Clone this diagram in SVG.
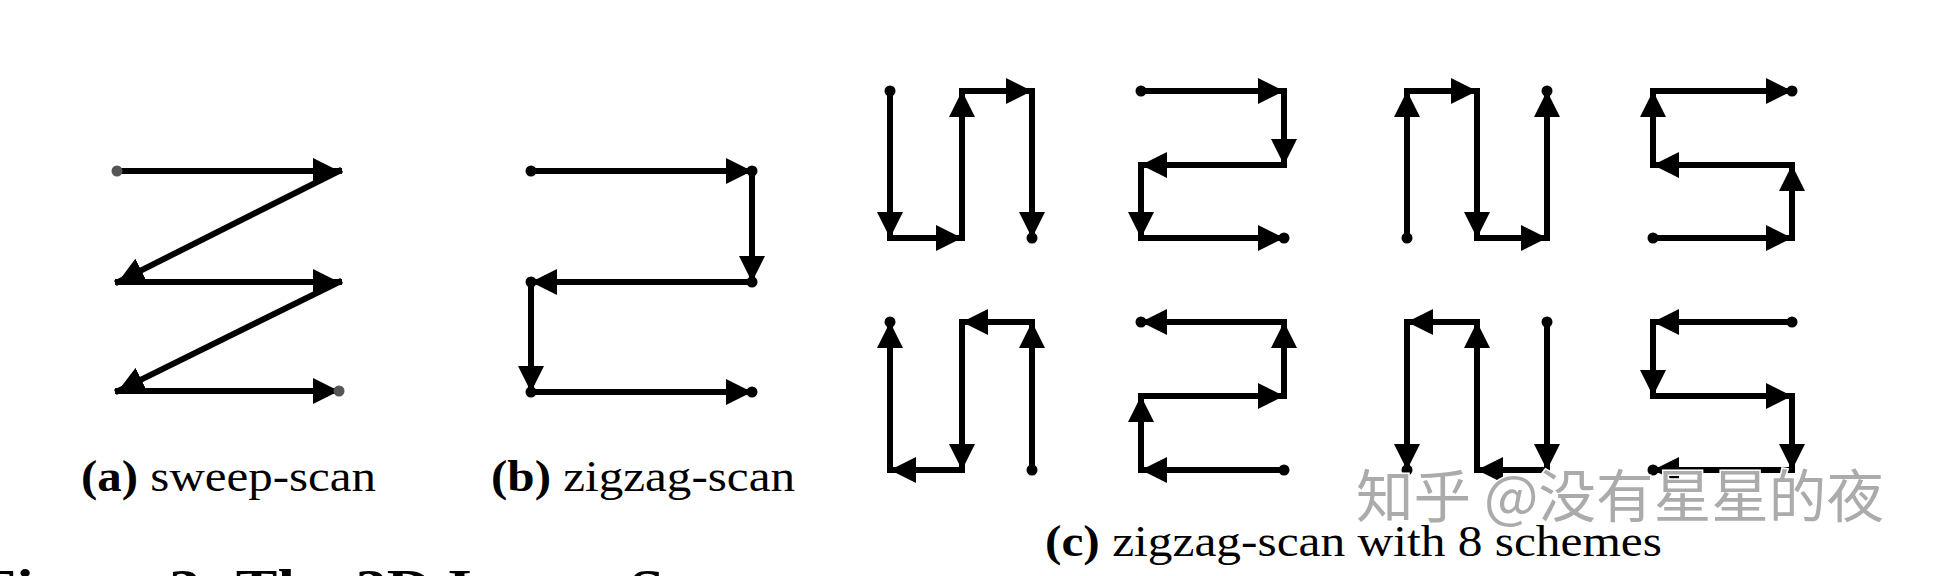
<svg xmlns="http://www.w3.org/2000/svg" width="1933" height="576" viewBox="0 0 1933 576">
<style>
.s{fill:none;stroke:#000;stroke-width:6;stroke-linecap:square;marker-end:url(#ah)}
.d{fill:#000}
.g{fill:#555}
.cap{font-family:"Liberation Serif","Times New Roman",serif;font-size:44px;fill:#000}
.b{font-weight:bold}
.wm{font-family:"Noto Sans CJK SC","Noto Sans",sans-serif;font-size:57px;fill:#ababab;stroke:#fff;stroke-width:3;paint-order:stroke}
</style>
<defs>
<marker id="ah" markerUnits="userSpaceOnUse" markerWidth="26" markerHeight="26" refX="26" refY="13" orient="auto">
<path d="M0,0 L26,13 L0,26 Z" fill="#000"/>
</marker>
</defs>
<rect width="1933" height="576" fill="#fff"/>

<g id="connectors">
<g id="sweep-scan">
<path class="s" d="M118,171 L339,171"/>
<path class="s" d="M339,171 L118,282"/>
<path class="s" d="M118,282 L339,282"/>
<path class="s" d="M339,282 L118,391"/>
<path class="s" d="M118,391 L339,391"/>
</g>
<g id="zigzag-scan">
<path class="s" d="M531,171 L752,171"/>
<path class="s" d="M752,171 L752,282"/>
<path class="s" d="M752,282 L531,282"/>
<path class="s" d="M531,282 L531,392"/>
<path class="s" d="M531,392 L752,392"/>
</g>
<g id="scheme1">
<path class="s" d="M890,91 L890,238"/>
<path class="s" d="M890,238 L962,238"/>
<path class="s" d="M962,238 L962,91"/>
<path class="s" d="M962,91 L1032,91"/>
<path class="s" d="M1032,91 L1032,238"/>
</g>
<g id="scheme2">
<path class="s" d="M1141,91 L1284,91"/>
<path class="s" d="M1284,91 L1284,165"/>
<path class="s" d="M1284,165 L1141,165"/>
<path class="s" d="M1141,165 L1141,238"/>
<path class="s" d="M1141,238 L1284,238"/>
</g>
<g id="scheme3">
<path class="s" d="M1407,238 L1407,91"/>
<path class="s" d="M1407,91 L1477,91"/>
<path class="s" d="M1477,91 L1477,238"/>
<path class="s" d="M1477,238 L1547,238"/>
<path class="s" d="M1547,238 L1547,91"/>
</g>
<g id="scheme4">
<path class="s" d="M1653,238 L1792,238"/>
<path class="s" d="M1792,238 L1792,165"/>
<path class="s" d="M1792,165 L1653,165"/>
<path class="s" d="M1653,165 L1653,91"/>
<path class="s" d="M1653,91 L1792,91"/>
</g>
<g id="scheme5">
<path class="s" d="M1032,470 L1032,322"/>
<path class="s" d="M1032,322 L962,322"/>
<path class="s" d="M962,322 L962,470"/>
<path class="s" d="M962,470 L890,470"/>
<path class="s" d="M890,470 L890,322"/>
</g>
<g id="scheme6">
<path class="s" d="M1284,470 L1141,470"/>
<path class="s" d="M1141,470 L1141,396"/>
<path class="s" d="M1141,396 L1284,396"/>
<path class="s" d="M1284,396 L1284,322"/>
<path class="s" d="M1284,322 L1141,322"/>
</g>
<g id="scheme7">
<path class="s" d="M1547,322 L1547,470"/>
<path class="s" d="M1547,470 L1477,470"/>
<path class="s" d="M1477,470 L1477,322"/>
<path class="s" d="M1477,322 L1407,322"/>
<path class="s" d="M1407,322 L1407,470"/>
</g>
<g id="scheme8">
<path class="s" d="M1792,322 L1653,322"/>
<path class="s" d="M1653,322 L1653,396"/>
<path class="s" d="M1653,396 L1792,396"/>
<path class="s" d="M1792,396 L1792,470"/>
<path class="s" d="M1792,470 L1653,470"/>
</g>
</g>

<g id="dots">
<circle class="g" cx="117" cy="171" r="5.5"/>
<circle class="g" cx="339" cy="391" r="5.5"/>
<circle class="d" cx="531" cy="171" r="5.5"/>
<circle class="d" cx="752" cy="171" r="5.5"/>
<circle class="d" cx="752" cy="282" r="5.5"/>
<circle class="d" cx="531" cy="282" r="5.5"/>
<circle class="d" cx="531" cy="392" r="5.5"/>
<circle class="d" cx="752" cy="392" r="5.5"/>
<circle class="d" cx="890" cy="91" r="5.5"/>
<circle class="d" cx="1032" cy="238" r="5.5"/>
<circle class="d" cx="1141" cy="91" r="5.5"/>
<circle class="d" cx="1284" cy="238" r="5.5"/>
<circle class="d" cx="1407" cy="238" r="5.5"/>
<circle class="d" cx="1547" cy="91" r="5.5"/>
<circle class="d" cx="1653" cy="238" r="5.5"/>
<circle class="d" cx="1792" cy="91" r="5.5"/>
<circle class="d" cx="1032" cy="470" r="5.5"/>
<circle class="d" cx="890" cy="322" r="5.5"/>
<circle class="d" cx="1284" cy="470" r="5.5"/>
<circle class="d" cx="1141" cy="322" r="5.5"/>
<circle class="d" cx="1547" cy="322" r="5.5"/>
<circle class="d" cx="1407" cy="470" r="5.5"/>
<circle class="d" cx="1792" cy="322" r="5.5"/>
<circle class="d" cx="1653" cy="470" r="5.5"/>
</g>

<g id="captions">
<text class="cap" x="81" y="491" textLength="295" lengthAdjust="spacingAndGlyphs"><tspan class="b">(a)</tspan> sweep-scan</text>
<text class="cap" x="491" y="491" textLength="304" lengthAdjust="spacingAndGlyphs"><tspan class="b">(b)</tspan> zigzag-scan</text>
<text class="cap" x="1045" y="556" textLength="617" lengthAdjust="spacingAndGlyphs"><tspan class="b">(c)</tspan> zigzag-scan with 8 schemes</text>
<text class="cap b" x="-22" y="606" textLength="780" lengthAdjust="spacingAndGlyphs" style="font-size:52px">Figure 3: The 2D Image Scan</text>
</g>

<g id="watermark">
<text class="wm" x="1356" y="517" textLength="528" lengthAdjust="spacingAndGlyphs">知乎 @没有星星的夜</text>
</g>
</svg>
